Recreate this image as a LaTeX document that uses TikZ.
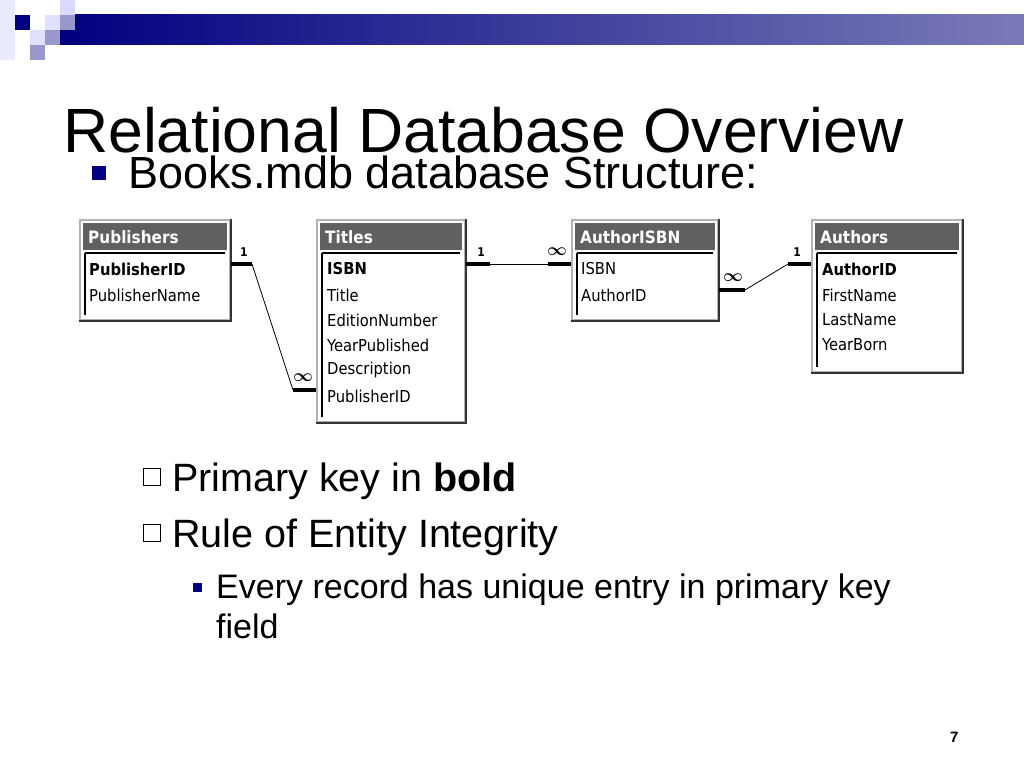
\documentclass[tikz,border=0pt]{standalone}
\usepackage{fontspec}
\setmainfont{Liberation Sans}
\newfontfamily\tab{DejaVu Sans Condensed}
\begin{document}
\begin{tikzpicture}[x=1pt,y=-1pt,
  tbl/.style={draw=gray!60,line width=2.5pt,fill=white},
  hdr/.style={fill=gray!75!black},
  hdrtxt/.style={anchor=west,text=white,font=\tab\fontsize{17}{17}\selectfont\bfseries,inner sep=0},
  row/.style={anchor=west,font=\tab\fontsize{16.4}{17}\selectfont,inner sep=0},
  brow/.style={row,font=\tab\fontsize{16.4}{17}\selectfont\bfseries},
  thick/.style={line width=4pt},
  thin/.style={line width=0.8pt},
  card/.style={font=\tab\fontsize{12}{12}\selectfont\bfseries,inner sep=0},
  inf/.style={font=\fontsize{16}{16}\selectfont\boldmath,inner sep=0},
  body/.style={anchor=base west,inner sep=0}]
\useasboundingbox (0,0) rectangle (1024,768);
% header decoration
\shade[left color=blue!50!black, right color=blue!30!gray!80] (60,15) rectangle (1024,45);
\fill[blue!8] (0,0) rectangle (15,60);
\fill[blue!15] (60,0) rectangle (75,15);
\fill[blue!50!black] (15,15) rectangle (30,30);
\fill[blue!12] (45,15) rectangle (60,30);
\fill[blue!35!gray!60] (60,15) rectangle (75,30);
\fill[blue!12] (30,30) rectangle (45,45);
\fill[blue!35!gray!60] (45,30) rectangle (60,45);
\fill[blue!35!gray!60] (30,45) rectangle (45,60);
% title
\node[body,font=\fontsize{62.5}{62.5}\selectfont] (title) at (63,152) {Relational Database Overview};
\fill[blue!50!black] (92,166) rectangle (106,180);
\node[body,font=\fontsize{45}{45}\selectfont] (b1) at (128,188) {Books.mdb database Structure:};
% tables
\newcommand\mktable[5]{%
  \draw[tbl] (#1,220) rectangle (#2,#3);
  \draw[gray!40!black,line width=2pt] (#1-1,#3+1) -- (#2+1,#3+1) -- (#2+1,219);
  \fill[hdr] (#1+3,223) rectangle (#2-3,250);
  \node[hdrtxt] (#4h) at (#1+8,237) {#5};
  \draw[line width=1.5pt] (#1+5,253) -- (#2-5,253);
  \draw[line width=1.5pt] (#1+5,253) -- (#1+5,#3-5);
}
\mktable{80}{230}{320}{pub}{Publishers}
\node[brow] (p1) at (89,269) {PublisherID};
\node[row] (p2) at (89,295) {PublisherName};
\mktable{317}{465}{422}{tit}{Titles}
\node[brow] (t1) at (327,269) {ISBN};
\node[row] (t2) at (327,295) {Title};
\node[row] (t3) at (327,320) {EditionNumber};
\node[row] (t4) at (327,345) {YearPublished};
\node[row] (t5) at (327,370) {Description};
\node[row] (t6) at (327,396) {PublisherID};
\mktable{572}{718}{320}{ai}{AuthorISBN}
\node[row] (a1) at (581,269) {ISBN};
\node[row] (a2) at (581,295) {AuthorID};
\mktable{812}{962}{372}{au}{Authors}
\node[brow] (u1) at (822,269) {AuthorID};
\node[row] (u2) at (822,295) {FirstName};
\node[row] (u3) at (822,320) {LastName};
\node[row] (u4) at (822,345) {YearBorn};
% relations
\coordinate (r1a) at (231,264); \coordinate (r1b) at (252,264);
\coordinate (r1c) at (293,390); \coordinate (r1d) at (316,390);
\draw[thick] (r1a) -- (r1b); \draw[thin] (r1b) -- (r1c); \draw[thick] (r1c) -- (r1d);
\node[card] (c1) at (244,252) {1}; \node[inf] (c2) at (303,378) {$\infty$};
\coordinate (r2a) at (466,264); \coordinate (r2b) at (490,264);
\coordinate (r2c) at (548,264); \coordinate (r2d) at (571,264);
\draw[thick] (r2a) -- (r2b); \draw[thin] (r2b) -- (r2c); \draw[thick] (r2c) -- (r2d);
\node[card] (c3) at (481,252) {1}; \node[inf] (c4) at (557,252) {$\infty$};
\coordinate (r3a) at (719,290); \coordinate (r3b) at (745,290);
\coordinate (r3c) at (788,264); \coordinate (r3d) at (811,264);
\draw[thick] (r3a) -- (r3b); \draw[thin] (r3b) -- (r3c); \draw[thick] (r3c) -- (r3d);
\node[inf] (c5) at (733,278) {$\infty$}; \node[card] (c6) at (797,252) {1};
% bullets
\draw[line width=0.8pt] (143,468) rectangle (160,485);
\node[body,font=\fontsize{39.5}{39.5}\selectfont] (b2) at (172,491) {Primary key in \textbf{bold}};
\draw[line width=0.8pt] (143,524) rectangle (160,541);
\node[body,font=\fontsize{39.5}{39.5}\selectfont] (b3) at (172,547) {Rule of Entity Integrity};
\fill[blue!50!black] (193,583) rectangle (202,592);
\node[body,font=\fontsize{34}{34}\selectfont] (b4) at (216,598) {Every record has unique entry in primary key};
\node[body,font=\fontsize{34}{34}\selectfont] (b5) at (216,638) {field};
\node[body,font=\fontsize{15}{15}\selectfont\bfseries] (pg) at (950,742) {7};
\end{tikzpicture}
\end{document}
